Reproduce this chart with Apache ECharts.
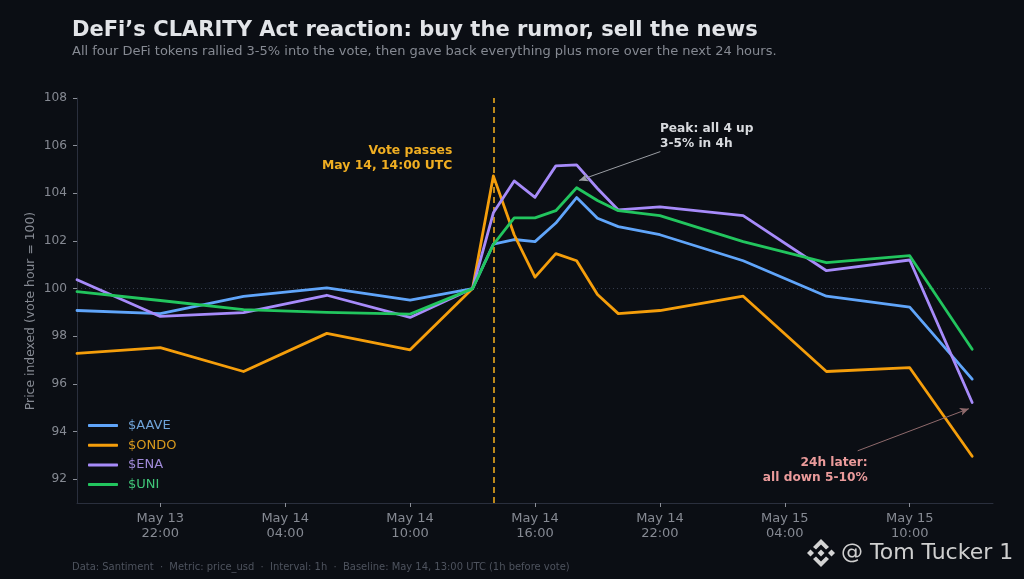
<!DOCTYPE html>
<html><head><meta charset="utf-8">
<style>html,body{margin:0;padding:0;background:#0b0e14}#c{width:1024px;height:579px}</style>
<script src="https://cdn.jsdelivr.net/npm/echarts@6/dist/echarts.min.js"></script>
</head><body><div id="c"></div>
<script>
// x values: hours since May 13 00:00 UTC
const hours = [18,22,26,30,34,37,38,39,40,41,42,43,44,46,50,54,58,61];
const aave = [99.08,98.95,99.67,100.03,99.52,100,101.87,102.06,101.97,102.75,103.82,102.95,102.6,102.26,101.17,99.68,99.22,96.2];
const ondo = [97.28,97.52,96.52,98.12,97.43,100,104.73,102.26,100.48,101.47,101.17,99.75,98.95,99.08,99.68,96.52,96.68,92.96];
const ena  = [100.37,98.83,98.99,99.72,98.79,100,103.18,104.52,103.83,105.15,105.19,104.2,103.3,103.43,103.06,100.75,101.2,95.22];
const uni  = [99.87,99.5,99.12,99.0,98.93,100,101.85,102.97,102.97,103.27,104.23,103.7,103.27,103.06,101.97,101.09,101.38,97.45];
const xTickValues = [22,28,34,40,46,52,58];
const xTickLabels = ['May 13\n22:00','May 14\n04:00','May 14\n10:00','May 14\n16:00','May 14\n22:00','May 15\n04:00','May 15\n10:00'];
const yTickValues = [92,94,96,98,100,102,104,106,108];
const voteHour = 38;
const names = ['$AAVE','$ONDO','$ENA','$UNI'];
const colors = ['#60a5fa','#f59e0b','#a78bfa','#22c55e'];
const legendText = ['#6fa3d8','#d99a1e','#a08ad8','#3fc578'];
const peakArrow = [[46.02,105.75],[42.12,104.54]];
const laterArrow = [[55.5,93.19],[60.84,94.96]];

const pair = a => hours.map((h,i)=>[h,a[i]]);
const note = (x,y,text,color,align,size) => ({
  coord:[x,y], symbolSize:0,
  label:{show:true,position:'inside',formatter:text,color,align,verticalAlign:'middle',
    fontFamily:'DejaVu Sans',fontWeight:'bold',fontSize:size,lineHeight:15}
});
const arrow = (pts,color) => ([
  {coord:pts[0],symbol:'none',lineStyle:{color,width:1,type:'solid'}},
  {coord:pts[1],symbol:'arrow',symbolSize:[6,9]}
]);
const allSeries = [aave,ondo,ena,uni].map((d,i)=>({
  name:names[i],type:'line',data:pair(d),showSymbol:false,symbol:'none',smooth:false,
  lineStyle:{color:colors[i],width:2.8,join:'round',cap:'round'},itemStyle:{color:colors[i]},
  z:5+i,animation:false,silent:true
}));
// reference lines and annotations
allSeries[0].markLine = {
  silent:true,animation:false,symbol:'none',label:{show:false},z:3,
  data:[
    {xAxis:voteHour,lineStyle:{color:'#f5b01e',width:1.6,type:[6,4],opacity:.95}},
    {yAxis:100,lineStyle:{color:'#363c4d',width:1,type:[1,3]}}
  ]
};
allSeries[3].markLine = {
  silent:true,animation:false,label:{show:false},symbol:['none','arrow'],z:20,
  data:[arrow(peakArrow,'#9a9da3'),arrow(laterArrow,'#8f6a6c')]
};
allSeries[3].markPoint = {
  silent:true,animation:false,z:20,
  data:[
    note(36.03,105.45,'Vote passes\nMay 14, 14:00 UTC','#f0ae22','right',12.4),
    note(46,106.4,'Peak: all 4 up\n3-5% in 4h','#d8dade','left',12.2),
    note(55.98,92.39,'24h later:\nall down 5-10%','#eb9b9b','right',12.2)
  ]
};

const chart = echarts.init(document.getElementById('c'),null,{renderer:'canvas'});
chart.setOption({
  animation:false,backgroundColor:'#0b0e14',
  title:[
    {text:'DeFi’s CLARITY Act reaction: buy the rumor, sell the news',left:67,top:15,
     textStyle:{color:'#e2e4e8',fontFamily:'DejaVu Sans',fontWeight:'bold',fontSize:21.05}},
    {text:'All four DeFi tokens rallied 3-5% into the vote, then gave back everything plus more over the next 24 hours.',left:67,top:40,
     textStyle:{color:'#868a93',fontFamily:'DejaVu Sans',fontWeight:'normal',fontSize:13}},
    {text:'Data: Santiment  ·  Metric: price_usd  ·  Interval: 1h  ·  Baseline: May 14, 13:00 UTC (1h before vote)',left:67,top:557,
     textStyle:{color:'#4e535e',fontFamily:'DejaVu Sans',fontWeight:'normal',fontSize:9.95}}
  ],
  legend:{
    orient:'vertical',left:83,top:413,itemWidth:30,itemHeight:3,itemGap:4.7,icon:'roundRect',selectedMode:false,
    textStyle:{fontFamily:'DejaVu Sans',fontSize:13,lineHeight:15,padding:[0,0,0,5]},
    data:names.map((n,i)=>({name:n,textStyle:{color:legendText[i],padding:[0,0,0,5]}}))
  },
  grid:{left:77,right:31,top:98,bottom:76,containLabel:false},
  xAxis:{
    type:'value',min:18,max:62,splitLine:{show:false},
    axisLine:{show:true,lineStyle:{color:'#2a2f3d'}},
    axisTick:{show:true,length:4,customValues:xTickValues,lineStyle:{color:'#8b8f98'}},
    axisLabel:{customValues:xTickValues,color:'#868a93',fontFamily:'DejaVu Sans',fontSize:13,lineHeight:15,margin:8,
      formatter:v=>xTickLabels[xTickValues.indexOf(v)]}
  },
  yAxis:{
    type:'value',min:91,max:108,splitLine:{show:false},
    axisLine:{show:true,lineStyle:{color:'#2a2f3d'}},
    axisTick:{show:true,length:4,customValues:yTickValues,lineStyle:{color:'#8b8f98'}},
    axisLabel:{customValues:yTickValues,color:'#868a93',fontFamily:'DejaVu Sans',fontSize:12.2,margin:10}
  },
  series:allSeries,
  graphic:[
    {type:'text',x:31,y:311,rotation:Math.PI/2,z:50,silent:true,style:{text:'Price indexed (vote hour = 100)',fill:'#868a93',fontFamily:'DejaVu Sans',fontSize:12.4,align:'center',verticalAlign:'middle'}},
    {type:'group',x:821,y:553,z:100,silent:true,children:[
      {type:'polygon',shape:{points:[[-14,0],[-10.5,-3.5],[-7,0],[-10.5,3.5]]},style:{fill:'#d4d4d4'}},
      {type:'polygon',shape:{points:[[14,0],[10.5,-3.5],[7,0],[10.5,3.5]]},style:{fill:'#d4d4d4'}},
      {type:'polygon',shape:{points:[[0,-14],[8,-6],[5,-3.5],[0,-8.5],[-5,-3.5],[-8,-6]]},style:{fill:'#d4d4d4'}},
      {type:'polygon',shape:{points:[[0,14],[8,6],[5,3.5],[0,8.5],[-5,3.5],[-8,6]]},style:{fill:'#d4d4d4'}},
      {type:'polygon',shape:{points:[[0,-3.5],[3.5,0],[0,3.5],[-3.5,0]]},style:{fill:'#d4d4d4'}}
    ]},
    {type:'text',x:841,y:553,z:100,silent:true,style:{text:'@ Tom Tucker 1',fill:'#cfcfcf',fontFamily:'DejaVu Sans',fontSize:22,verticalAlign:'middle'}}
  ]
});
</script></body></html>
